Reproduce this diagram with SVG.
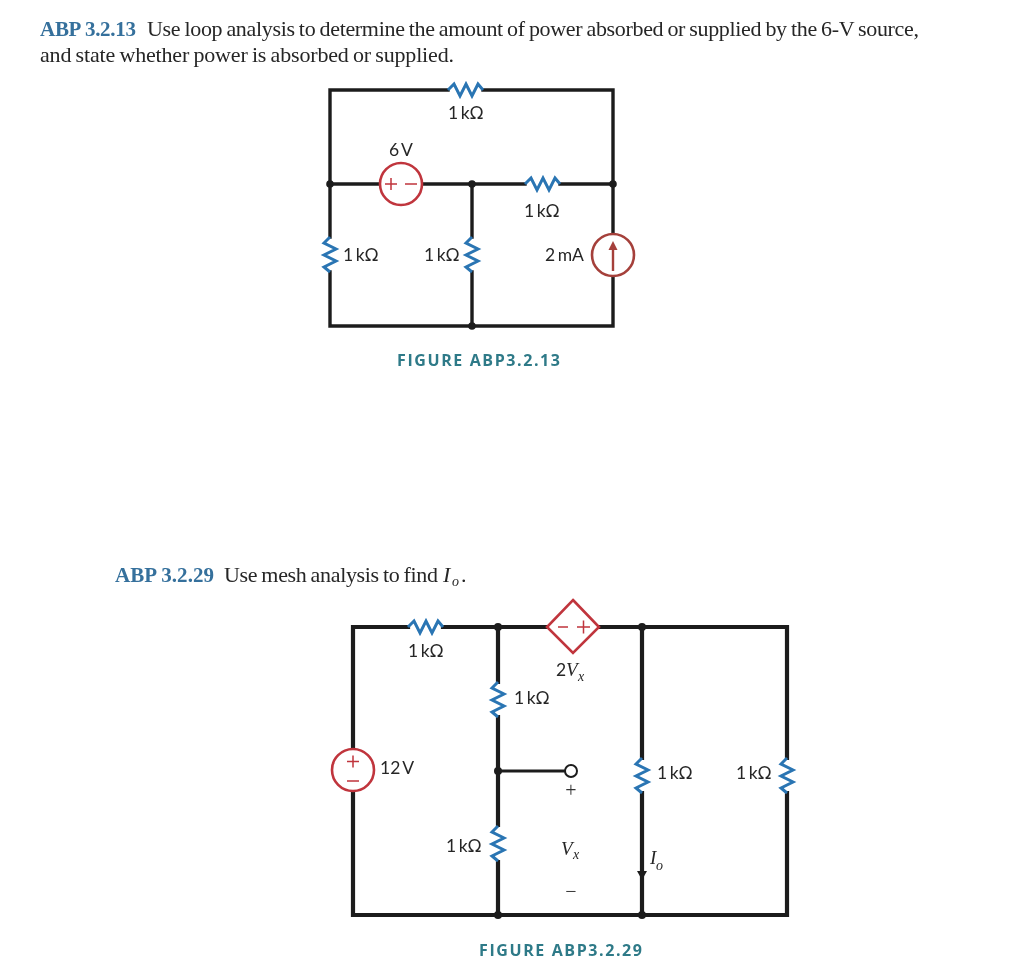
<svg xmlns="http://www.w3.org/2000/svg" width="1024" height="972" viewBox="0 0 1024 972">
<style>
.w{fill:none;stroke:#1c1c1c;stroke-width:3.4;stroke-linecap:square}
.w2{fill:none;stroke:#1c1c1c;stroke-width:4.2;stroke-linecap:square}
.t{fill:none;stroke:#1c1c1c;stroke-width:3}
.r{fill:none;stroke:#2a75b3;stroke-width:3}
.s{fill:#fff;stroke:#c0343c;stroke-width:2.6}
.i{fill:#fff;stroke:#a5403a;stroke-width:2.6}
.m{fill:none;stroke:#c0343c;stroke-width:1.5}
.d{fill:#1c1c1c}
.b{font-family:"Liberation Serif",serif;font-size:22px;fill:#262626;word-spacing:-1px}
.h{font-family:"Liberation Serif",serif;font-size:21px;font-weight:bold;fill:#35709c}
.l{font-family:"Lato","Open Sans",sans-serif;font-size:17.5px;fill:#262626;word-spacing:-2px}
.v{font-family:"Liberation Serif",serif;font-size:19px;font-style:italic;fill:#262626}
.x{font-family:"Liberation Serif",serif;font-size:14px;font-style:italic;fill:#262626}
.n{font-family:"Liberation Serif",serif;font-size:20px;fill:#333}
.c{font-family:"Open Sans","Noto Sans",sans-serif;font-size:16px;font-weight:bold;letter-spacing:1.6px;fill:#2f7a88}
</style>
<defs>
<path id="rh" d="M0 0 L6 -6 L12 6 L18 -6 L24 6 L30 -6 L35 0"/>
<path id="rv" d="M0 0 L-6 6 L6 12 L-6 18 L6 24 L-6 30 L0 35"/>
<filter id="soft" x="0" y="0" width="100%" height="100%"><feGaussianBlur stdDeviation="0.55"/></filter>
</defs>
<g filter="url(#soft)">
<rect width="1024" height="972" fill="#fff"/>
<g id="problem-1">
<text class="h" x="40" y="36" textLength="96">ABP 3.2.13</text>
<text class="b" x="147" y="36" textLength="772">Use loop analysis to determine the amount of power absorbed or supplied by the 6-V source,</text>
<text class="b" x="40" y="62" textLength="414">and state whether power is absorbed or supplied.</text>
</g>
<g id="connectors-1">
<path class="w" d="M448 90H330V237M330 272V326H613V276M613 234V90H483M330 184H380M422 184H525M560 184H613M472 184V237M472 272V326"/>
</g>
<g id="r1-top"><use class="r" href="#rh" x="448" y="90"/><text class="l" x="448" y="119">1 kΩ</text></g>
<g id="r1-mid"><use class="r" href="#rh" x="525" y="184"/><text class="l" x="524" y="217">1 kΩ</text></g>
<g id="r1-left"><use class="r" href="#rv" x="330" y="237"/><text class="l" x="343" y="261">1 kΩ</text></g>
<g id="r1-center"><use class="r" href="#rv" x="472" y="237"/><text class="l" x="424" y="261">1 kΩ</text></g>
<g id="source-6v">
<circle class="s" cx="401" cy="184" r="21"/>
<path class="m" d="M391 178V190M385 184H397M405 184H417"/>
<text class="l" x="401" y="156" text-anchor="middle">6 V</text>
</g>
<g id="source-2ma">
<circle class="i" cx="613" cy="255" r="21"/>
<path d="M613 271V248" fill="none" stroke="#a5403a" stroke-width="2.400"/>
<path d="M613 241L617.500 250H608.500Z" fill="#a5403a"/>
<text class="l" x="545" y="261">2 mA</text>
</g>
<g id="junctions-1">
<circle class="d" cx="330" cy="184" r="3.800"/><circle class="d" cx="472" cy="184" r="3.800"/><circle class="d" cx="613" cy="184" r="3.800"/><circle class="d" cx="472" cy="326" r="3.800"/>
</g>
<text class="c" x="397" y="366">FIGURE ABP3.2.13</text>

<g id="problem-2">
<text class="h" x="115" y="582" textLength="99">ABP 3.2.29</text>
<text class="b" x="224" y="582" textLength="214">Use mesh analysis to find</text>
<text class="b" x="443" y="582" font-style="italic">I</text><text class="x" x="452" y="586">o</text><text class="b" x="461" y="582">.</text>
</g>
<g id="connectors-2">
<path class="w2" d="M408 627H353V749M353 791V915H787V793M787 758V627H600M546 627H443M498 627V682M498 717V825M498 862V915M642 627V758M642 793V915"/>
<path class="t" d="M498 771H565"/>
<path class="d" d="M637 871H647L642 880Z"/>
</g>
<g id="r2-top"><use class="r" href="#rh" x="408" y="627"/><text class="l" x="408" y="657">1 kΩ</text></g>
<g id="r2-upper"><use class="r" href="#rv" x="498" y="682"/><text class="l" x="514" y="704">1 kΩ</text></g>
<g id="r2-lower"><use class="r" href="#rv" x="498" y="826"/><text class="l" x="446" y="852">1 kΩ</text></g>
<g id="r2-io"><use class="r" href="#rv" x="642" y="758"/><text class="l" x="657" y="779">1 kΩ</text></g>
<g id="r2-right"><use class="r" href="#rv" x="787" y="758"/><text class="l" x="736" y="779">1 kΩ</text></g>
<g id="source-12v">
<circle class="s" cx="353" cy="770" r="21"/>
<path class="m" d="M347 761.500H359M353 755.500V767.500M347 781H359"/>
<text class="l" x="380" y="774">12 V</text>
</g>
<g id="source-dep">
<path class="s" d="M573 600L599 627L573 653L547 627Z"/>
<path class="m" d="M558 627H568M577 627H590M583.500 620.500V633.500"/>
<text class="l" x="556" y="676">2</text><text class="v" x="566" y="676">V</text><text class="x" x="578" y="681">x</text>
</g>
<g id="terminal">
<circle cx="571" cy="771" r="6" fill="#fff" stroke="#1c1c1c" stroke-width="2"/>
<text class="n" x="571" y="797" text-anchor="middle">+</text>
<text class="v" x="561" y="855">V</text><text class="x" x="573" y="859">x</text>
<text class="n" x="571" y="898" text-anchor="middle">−</text>
</g>
<g id="io-label"><text class="v" x="650" y="864">I</text><text class="x" x="656" y="870">o</text></g>
<g id="junctions-2">
<circle class="d" cx="498" cy="627" r="4"/><circle class="d" cx="642" cy="627" r="4"/><circle class="d" cx="498" cy="771" r="4"/><circle class="d" cx="498" cy="915" r="4"/><circle class="d" cx="642" cy="915" r="4"/>
</g>
<text class="c" x="479" y="956">FIGURE ABP3.2.29</text>
</g>
</svg>
